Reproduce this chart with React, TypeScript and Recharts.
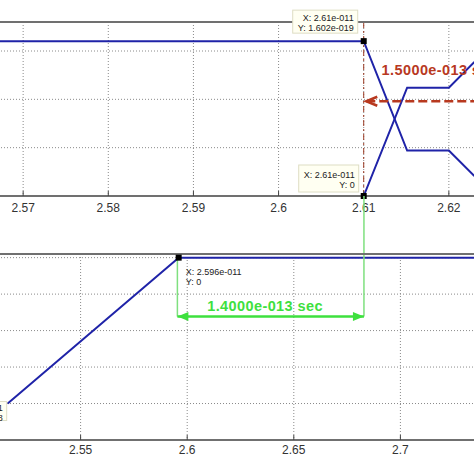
import React from 'react';
import {
  LineChart,
  Line,
  XAxis,
  YAxis,
  CartesianGrid,
  ReferenceLine,
  ReferenceDot,
} from 'recharts';

// top panel, time axis in units of 1e-11 s
const topTime = [2.56, 2.61, 2.6151, 2.62, 2.623];
const fallingSignal = [1.602, 1.602, 0.47, 0.47, 0.207];
const risingSignal = [0, 0, 1.12, 1.12, 1.386];
const topTicksX = [2.56, 2.57, 2.58, 2.59, 2.6, 2.61, 2.62, 2.63];
const topTicksY = [0, 0.5, 1, 1.5];

// bottom panel
const bottomTime = [2.5158, 2.596, 2.75];
const bottomSignal = [-0.8, 0, 0];
const bottomTicksX = [2.5, 2.55, 2.6, 2.65, 2.7, 2.75];
const bottomTicksY = [-1, -0.8, -0.6, -0.4, -0.2, 0];

// data tips and delay annotations
const tipHigh = ['X: 2.61e-011', 'Y: 1.602e-019'];
const tipLow = ['X: 2.61e-011', 'Y: 0'];
const tipBottom = ['X: 2.596e-011', 'Y: 0'];
const tipStart = ['X: 2.516e-011', 'Y: -0.8'];
const redDelay = '1.5000e-013 sec';
const greenDelay = '1.4000e-013 sec';

const topData = topTime.map((t, i) => ({ t, a: fallingSignal[i], b: risingSignal[i] }));
const bottomData = bottomTime.map((t, i) => ({ t, v: bottomSignal[i] }));

const BLUE = '#1f23a8';
const GRID = '#8a8a8a';
const AXIS = '#707070';
const RED = '#b8391f';
const GREEN = '#3ee03e';
const FONT = 'Arial, "Liberation Sans", sans-serif';

const fmt = (v: number) => String(Number(v.toFixed(2)));

const Marker = (p: any) => <rect x={p.cx - 3} y={p.cy - 3} width={6} height={6} fill="#000" />;

const DataTip = ({ viewBox, lines, dx, dy, w, h, pad = 11, boxed = true, align = 'end' }: any) => {
  if (!viewBox) return null;
  const cx = viewBox.x + viewBox.width / 2;
  const cy = viewBox.y + viewBox.height / 2;
  const bx = cx + dx;
  const by = cy + dy;
  return (
    <g>
      {boxed && <rect x={bx} y={by} width={w} height={h} fill="#fffff2" stroke="#deddc4" />}
      {lines.map((l: string, i: number) => (
        <text
          key={i}
          x={align === 'end' ? bx + w - 4 : bx}
          y={by + pad + i * 10}
          textAnchor={align}
          fontSize={9}
          fontFamily={FONT}
          fill="#222"
        >
          {l}
        </text>
      ))}
    </g>
  );
};

const BoldNote = ({ viewBox, text, color, anchor = 'start' }: any) => {
  if (!viewBox) return null;
  const cx = viewBox.x + viewBox.width / 2;
  const cy = viewBox.y + viewBox.height / 2;
  return (
    <text
      x={cx}
      y={cy}
      dy="0.35em"
      textAnchor={anchor}
      fontSize={14.5}
      fontWeight="bold"
      fontFamily={FONT}
      letterSpacing={0.4}
      fill={color}
    >
      {text}
    </text>
  );
};

// line with optional filled / open arrow heads
const arrowShape = (color: string, width: number, dash: string | undefined, headStart: boolean, headEnd: boolean, open = false) =>
  (p: any) => {
    const { x1, y1, x2, y2 } = p;
    const ang = Math.atan2(y2 - y1, x2 - x1);
    const head = (x: number, y: number, a: number) => {
      const L = 11;
      const W = 4.5;
      const bx = x - L * Math.cos(a);
      const by = y - L * Math.sin(a);
      const px = -Math.sin(a) * W;
      const py = Math.cos(a) * W;
      return open ? (
        <polyline
          points={`${bx + px},${by + py} ${x},${y} ${bx - px},${by - py}`}
          fill="none"
          stroke={color}
          strokeWidth={width}
        />
      ) : (
        <polygon points={`${bx + px},${by + py} ${x},${y} ${bx - px},${by - py}`} fill={color} />
      );
    };
    return (
      <g>
        <line x1={x1} y1={y1} x2={x2} y2={y2} stroke={color} strokeWidth={width} strokeDasharray={dash} />
        {headStart && head(x1, y1, ang + Math.PI)}
        {headEnd && head(x2, y2, ang)}
      </g>
    );
  };

const tickStyle = { fontSize: 12, fill: '#333', fontFamily: FONT };

export default function App() {
  return (
    <div
      style={{
        position: 'fixed',
        left: 0,
        top: 0,
        width: 474,
        height: 474,
        overflow: 'hidden',
        background: '#fff',
      }}
    >
      <div style={{ position: 'absolute', left: -62, top: 0 }}>
        <LineChart width={596} height={226} data={topData} margin={{ top: 21, right: 0, bottom: 0, left: 0 }}>
          <CartesianGrid stroke={GRID} strokeDasharray="1 2" />
          <XAxis
            dataKey="t"
            type="number"
            domain={[2.56, 2.63]}
            ticks={topTicksX}
            tickFormatter={fmt}
            height={30}
            tickSize={-5}
            tickMargin={12}
            tick={tickStyle}
            axisLine={{ stroke: AXIS, strokeWidth: 2 }}
            tickLine={{ stroke: '#444' }}
          />
          <XAxis
            xAxisId="top"
            orientation="top"
            dataKey="t"
            type="number"
            domain={[2.56, 2.63]}
            ticks={topTicksX}
            height={1}
            tickSize={-5}
            tick={false}
            axisLine={{ stroke: AXIS, strokeWidth: 2 }}
            tickLine={{ stroke: '#444' }}
          />
          <YAxis type="number" domain={[0, 1.8]} ticks={topTicksY} hide />
          <ReferenceLine x={2.61} stroke="#9c3b25" strokeWidth={1} strokeDasharray="6 3 2 3" />
          <Line dataKey="a" stroke={BLUE} strokeWidth={2} dot={false} isAnimationActive={false} />
          <Line dataKey="b" stroke={BLUE} strokeWidth={2} dot={false} isAnimationActive={false} />
          <ReferenceLine
            segment={[{ x: 2.6103, y: 0.98 }, { x: 2.64, y: 0.98 }]}
            ifOverflow="visible"
            shape={arrowShape(RED, 2.5, '9 4', true, false, true)}
          />
          <ReferenceDot
            x={2.6121}
            y={1.303}
            r={0}
            ifOverflow="visible"
            fill="none"
            stroke="none"
            label={<BoldNote text={redDelay} color={RED} />}
          />
          <ReferenceDot
            x={2.61}
            y={1.602}
            r={3}
            shape={Marker}
            label={<DataTip lines={tipHigh} dx={-71} dy={-31} w={65} h={23} pad={11} />}
          />
          <ReferenceDot
            x={2.61}
            y={0}
            r={3}
            ifOverflow="visible"
            shape={Marker}
            label={<DataTip lines={tipLow} dx={-65} dy={-31} w={60} h={27} pad={13} />}
          />
        </LineChart>
      </div>

      <div style={{ position: 'absolute', left: -26, top: 190 }}>
        <LineChart width={533} height={280} data={bottomData} margin={{ top: 63, right: 0, bottom: 0, left: 0 }}>
          <CartesianGrid stroke={GRID} strokeDasharray="1 2" />
          <XAxis
            dataKey="t"
            type="number"
            domain={[2.5, 2.75]}
            ticks={bottomTicksX}
            tickFormatter={fmt}
            height={30}
            tickSize={-5}
            tickMargin={10}
            tick={tickStyle}
            axisLine={{ stroke: AXIS, strokeWidth: 2 }}
            tickLine={{ stroke: '#444' }}
          />
          <XAxis
            xAxisId="top"
            orientation="top"
            dataKey="t"
            type="number"
            domain={[2.5, 2.75]}
            ticks={bottomTicksX}
            height={1}
            tickSize={-5}
            tick={false}
            axisLine={{ stroke: AXIS, strokeWidth: 2 }}
            tickLine={{ stroke: '#444' }}
          />
          <YAxis type="number" domain={[-1, 0.02]} ticks={bottomTicksY} hide />
          <Line dataKey="v" stroke={BLUE} strokeWidth={2} dot={false} isAnimationActive={false} />
          <ReferenceLine
            segment={[{ x: 2.6829, y: 0.338 }, { x: 2.6829, y: -0.323 }]}
            ifOverflow="visible"
            shape={arrowShape('#7fe07f', 1.5, undefined, false, false)}
          />
          <ReferenceLine
            segment={[{ x: 2.5954, y: 0 }, { x: 2.5954, y: -0.323 }]}
            ifOverflow="visible"
            shape={arrowShape('#7fe07f', 1.5, undefined, false, false)}
          />
          <ReferenceLine
            segment={[{ x: 2.5954, y: -0.323 }, { x: 2.6829, y: -0.323 }]}
            ifOverflow="visible"
            shape={arrowShape(GREEN, 2.5, undefined, true, true)}
          />
          <ReferenceDot
            x={2.6365}
            y={-0.265}
            r={0}
            fill="none"
            stroke="none"
            label={<BoldNote text={greenDelay} color={GREEN} anchor="middle" />}
          />
          <ReferenceDot
            x={2.596}
            y={0}
            r={3}
            ifOverflow="visible"
            shape={Marker}
            label={<DataTip lines={tipBottom} dx={7} dy={7} w={60} h={22} pad={10} boxed={false} align="start" />}
          />
          <ReferenceDot
            x={2.5158}
            y={-0.8}
            r={3}
            ifOverflow="visible"
            shape={() => null}
            label={<DataTip lines={tipStart} dx={-68} dy={-2} w={67} h={19} pad={9} />}
          />
        </LineChart>
      </div>
    </div>
  );
}
